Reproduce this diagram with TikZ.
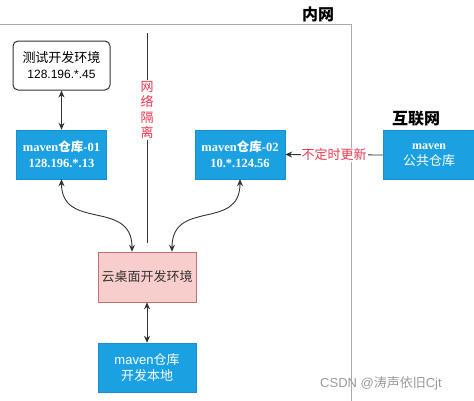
\documentclass[tikz,border=0pt]{standalone}
\usepackage{fontspec}
\setmainfont{Liberation Serif}
\setsansfont{Liberation Sans}
\newfontfamily\cjk{Noto Sans CJK SC}
\usetikzlibrary{arrows.meta}
\definecolor{dioblue}{HTML}{1BA1E2}
\definecolor{dioblueborder}{HTML}{1A8FD0}
\definecolor{pinkfill}{HTML}{F8CECC}
\definecolor{pinkborder}{HTML}{C07070}
\definecolor{labelred}{HTML}{E8384F}
\definecolor{framegray}{HTML}{AAAAAA}
\definecolor{wmgray}{HTML}{9A9A9A}
\newcommand{\zh}[1]{{\cjk #1}}
\tikzset{
  bluebox/.style={draw=dioblueborder, fill=dioblue, text=white, minimum width=90pt, minimum height=49pt, inner sep=1pt, align=center, font=\fontsize{12.5}{16}\selectfont\bfseries},
  testbox/.style={draw=black!80, line width=1pt, rounded corners=5pt, fill=white, minimum width=97pt, minimum height=49pt, inner sep=1pt, align=center, font=\fontsize{12}{16}\selectfont},
  cloudbox/.style={draw=pinkborder, line width=0.6pt, fill=pinkfill, text=black!80, minimum width=98pt, minimum height=50pt, inner sep=1pt, align=center, font=\fontsize{13}{16}\selectfont},
  conn/.style={draw=black!80, line width=0.9pt, {Stealth[length=7pt,width=6pt]}-{Stealth[length=7pt,width=6pt]}},
  conn1/.style={draw=black!80, line width=0.9pt, -{Stealth[length=7pt,width=6pt]}},
  redlabel/.style={text=labelred, fill=white, inner sep=1pt, align=center, font=\fontsize{13}{15.5}\selectfont\cjk},
  zonelabel/.style={text=black, inner sep=0pt, font=\fontsize{16}{18}\selectfont\cjk\bfseries},
}
\begin{document}
\begin{tikzpicture}[x=1pt,y=-1pt]
\useasboundingbox (0,0) rectangle (474,400);
% intranet frame
\draw[framegray, line width=0.8pt] (-2,24.5) -- (351,24.5) -- (351,402);
\node[zonelabel] (zin) at (318,14) {内网};
% isolation line
\coordinate (isotop) at (147,33);
\coordinate (isobot) at (147,243);
\draw[black!80, line width=0.9pt] (isotop) -- (isobot);
\node[redlabel] (iso) at (147,110) {网\\络\\隔\\离};
% nodes
\node[testbox] (test) at (61.5,65.5) {\zh{\fontsize{13}{16}\selectfont 测试开发环境}\\\sffamily 128.196.*.45};
\node[bluebox] (m1) at (61.5,154.5) {maven\zh{仓库}-01\\128.196.*.13};
\node[bluebox] (m2) at (240,154.5) {maven\zh{仓库}-02\\10.*.124.56};
\node[bluebox, minimum width=92pt] (pub) at (429,155) {{\fontsize{12}{16}\selectfont maven}\\\zh{\mdseries\fontsize{13}{16}\selectfont 公共仓库}};
\node[zonelabel] (zout) at (416,119) {互联网};
\node[cloudbox] (cloud) at (147,277) {\zh{云桌面开发环境}};
\node[bluebox, minimum width=98pt, font=\fontsize{13}{16}\selectfont] (loc) at (147,367.5) {\sffamily maven\zh{仓库}\\\zh{开发本地}};
% connectors
\draw[conn] (test.south) -- (m1.north);
\draw[conn] (cloud.south) -- (loc.north);
\draw[conn] (m1.south) .. controls +(0,52) and +(0,-53) .. ([xshift=-15pt]cloud.north);
\draw[conn] (m2.south) .. controls +(0,52) and +(0,-53) .. ([xshift=25pt]cloud.north);
\draw[conn1] (pub.west) -- (m2.east) node[redlabel, midway] (upd) {不定时更新};
% watermark
\node[text=wmgray, inner sep=0pt, anchor=west, font=\fontsize{13}{15}\selectfont] (wm) at (320,383) {\sffamily CSDN @\zh{涛声依旧}Cjt};
\end{tikzpicture}
\end{document}
